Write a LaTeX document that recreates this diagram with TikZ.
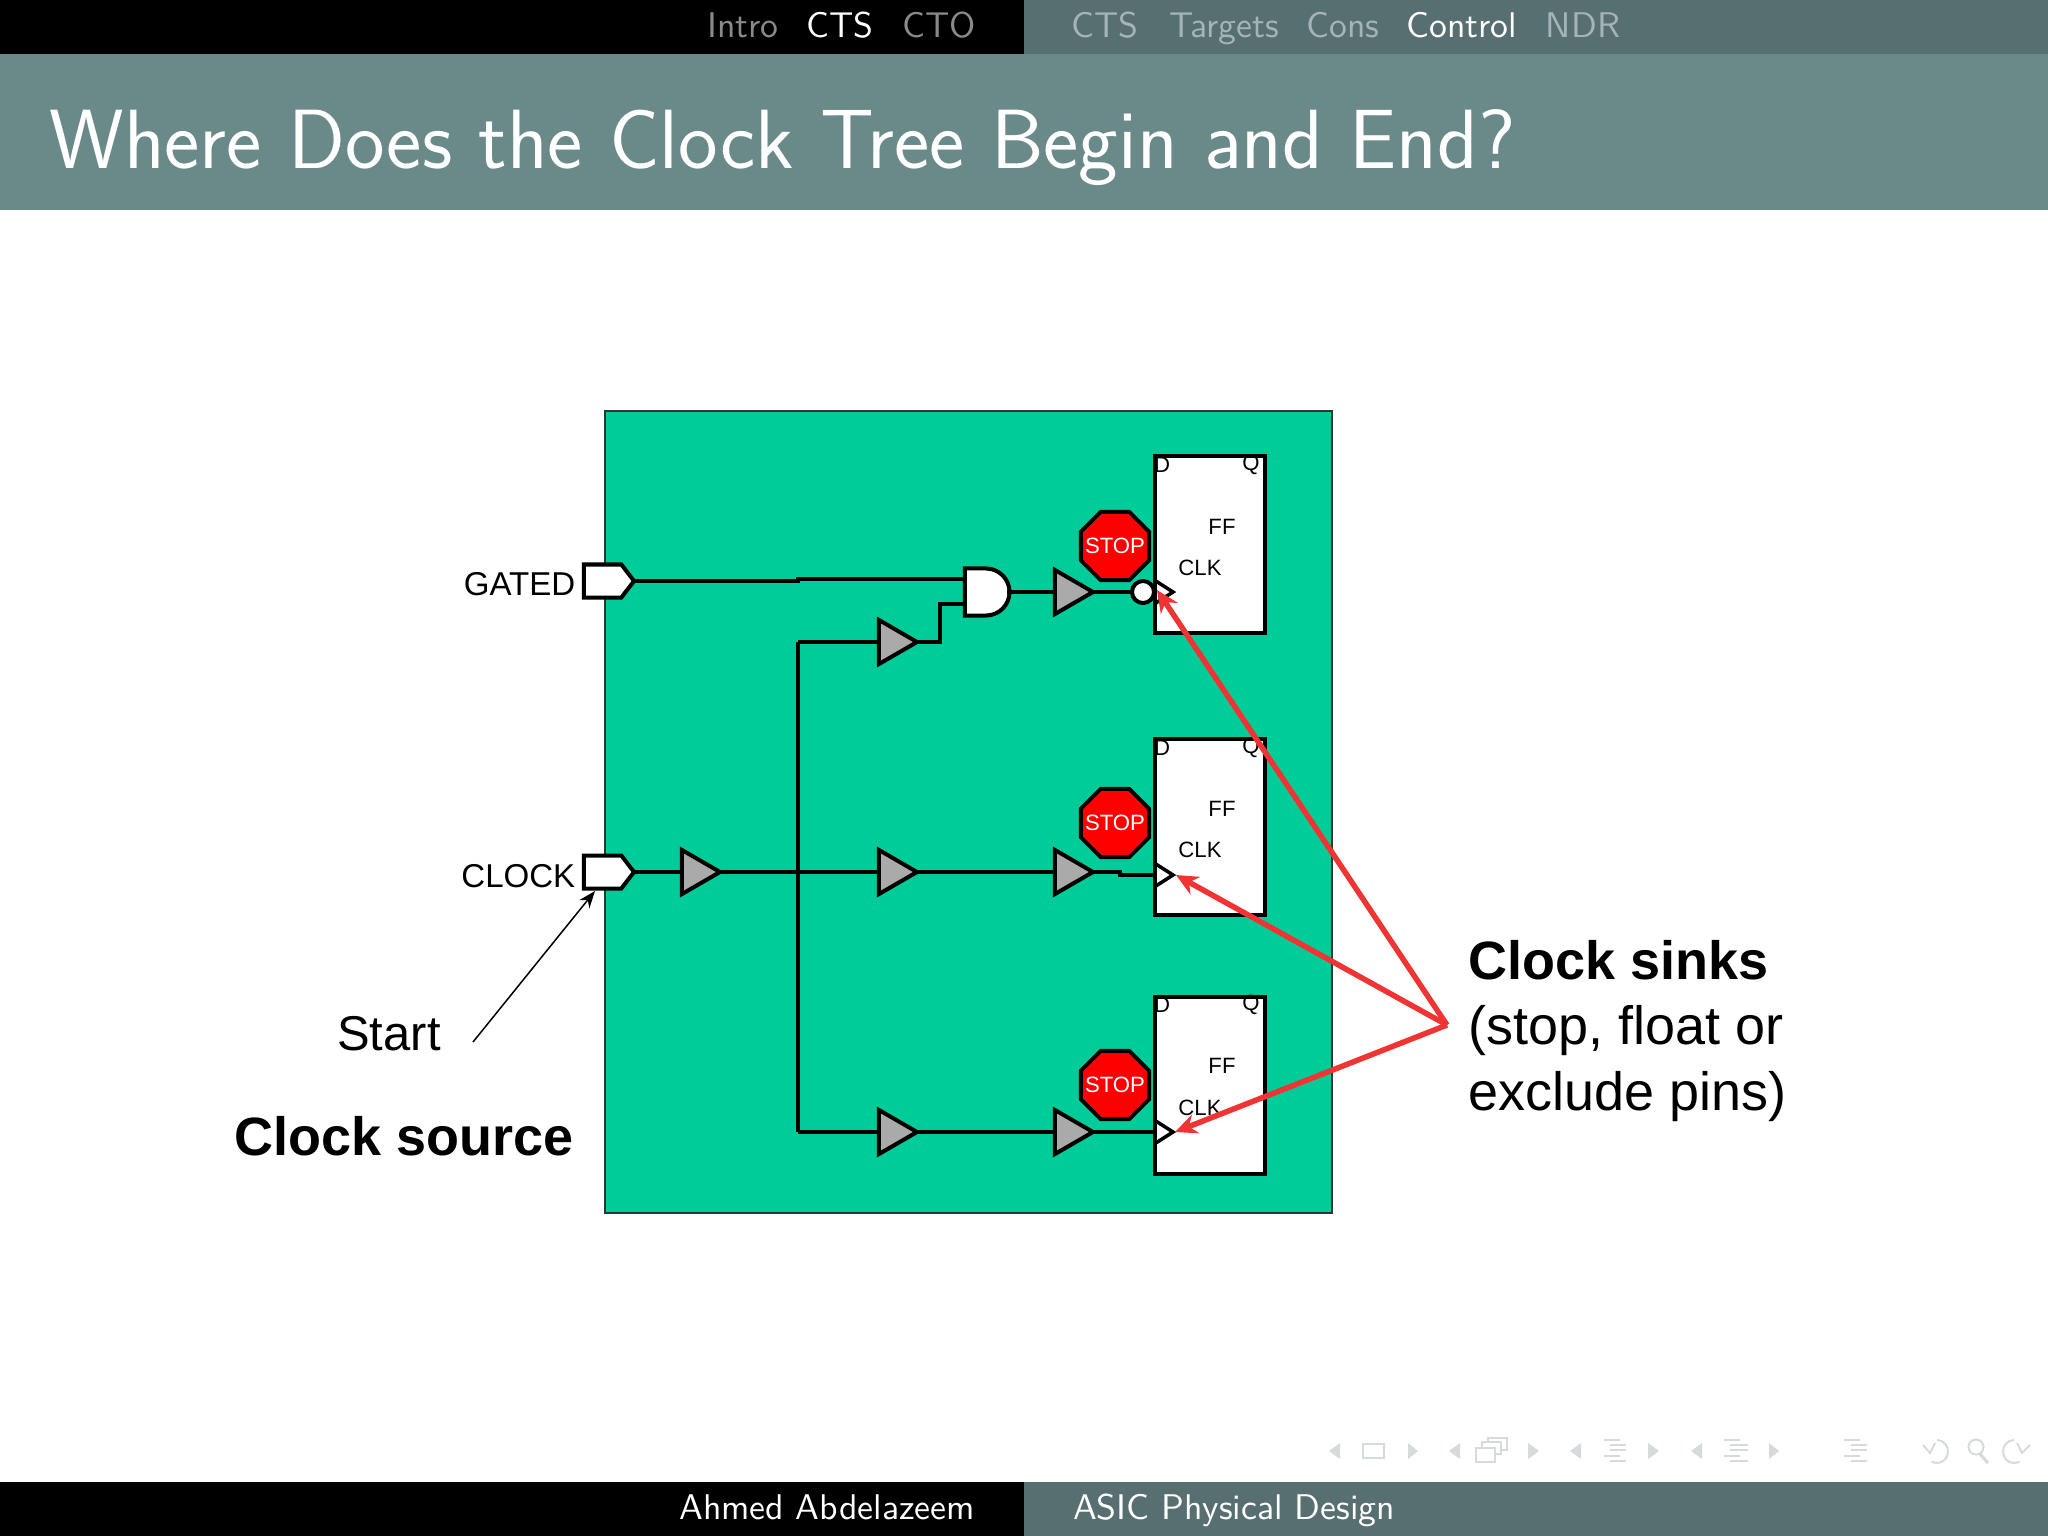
\documentclass[tikz,border=0pt]{standalone}
\usepackage{fontspec}
\setmainfont{Liberation Sans}
\usetikzlibrary{arrows.meta,shapes.geometric,shapes.symbols}
\definecolor{headbar}{HTML}{586F71}
\definecolor{titlebar}{HTML}{6A8A8A}
\definecolor{blockgreen}{HTML}{00CC99}
\definecolor{bufgray}{HTML}{AAAAAA}
\definecolor{navdim}{HTML}{8A8A8A}
\definecolor{navfade}{HTML}{A3B5B5}
\definecolor{iconfade}{HTML}{D5DADA}
\definecolor{sinkred}{HTML}{F03333}
\begin{document}
\begin{tikzpicture}[x=.01cm,y=-.01cm,
wire/.style={line width=.035cm},
buf node/.style={isosceles triangle,isosceles triangle stretches,draw,line width=.04cm,fill=bufgray,minimum width=.44cm,minimum height=.38cm,inner sep=0pt,outer sep=0pt,anchor=apex},
port node/.style={signal,signal to=east,signal from=nowhere,signal pointer angle=105,draw,line width=.04cm,fill=white,minimum width=.5cm,minimum height=.33cm,inner sep=0pt,outer sep=0pt,anchor=east},
ff node/.style={rectangle,draw,line width=.04cm,fill=white,minimum width=1.1cm,minimum height=1.76cm,inner sep=0pt,outer sep=0pt},
stop node/.style={regular polygon,regular polygon sides=8,draw,line width=.04cm,fill=red,text=white,minimum size=.74cm,inner sep=0pt,outer sep=0pt,font=\fontsize{6.3}{7}\selectfont},
clk node/.style={isosceles triangle,isosceles triangle stretches,draw,line width=.035cm,fill=white,minimum width=.23cm,minimum height=.18cm,inner sep=0pt,outer sep=0pt,anchor=lower side},
pin node/.style={inner sep=0pt,font=\fontsize{6.3}{7}\selectfont},
nav node/.style={inner sep=0pt,anchor=base,font=\sffamily\fontsize{10.15}{12}\selectfont},
red arrow/.style={draw=sinkred,line width=.055cm,-{Stealth[length=.22cm,width=.2cm]}}]
\useasboundingbox (0,0) rectangle (2048,1536);
% slide frame
\fill[black] (0,0) rectangle (1024,54);
\fill[headbar] (1024,0) rectangle (2048,54);
\fill[titlebar] (0,54) rectangle (2048,210);
\fill[black] (0,1482) rectangle (1024,1536);
\fill[headbar] (1024,1482) rectangle (2048,1536);
\begin{scope}[every node/.style={nav node}]
\node[text=navdim] (intro) at (743,37) {Intro};
\node[text=white] (cts) at (840,37) {CTS};
\node[text=navdim] (cto) at (939,37) {CTO};
\node[text=navfade] (cts2) at (1105,37) {CTS};
\node[text=navfade] (targets) at (1224,37) {Targets};
\node[text=navfade] (cons) at (1343,37) {Cons};
\node[text=white] (control) at (1462,37) {Control};
\node[text=navfade] (ndr) at (1583,37) {NDR};
\node[text=white] (author) at (827,1519) {Ahmed Abdelazeem};
\node[text=white] (course) at (1234,1519) {ASIC Physical Design};
\end{scope}
\node[anchor=base west,inner sep=0pt,text=white,font=\sffamily\fontsize{23.9}{27}\selectfont] (title) at (49,168) {Where Does the Clock Tree Begin and End?};
% block
\draw[fill=blockgreen,line width=.015cm,draw=black!80] (605,411) rectangle (1332,1213);
\begin{scope}
\node[ff node] (ff1) at (1210,544.5) {};
\node[ff node] (ff2) at (1210,827) {};
\node[ff node] (ff3) at (1210,1085.5) {};
\node[pin node] (d1) at (1162,465) {D};
\node[pin node] (q1) at (1251,465) {Q};
\node[pin node] (name1) at (1222,527) {FF};
\node[pin node] (clk1) at (1200,568) {CLK};
\node[pin node] (d2) at (1162,748) {D};
\node[pin node] (q2) at (1251,748) {Q};
\node[pin node] (name2) at (1222,809) {FF};
\node[pin node] (clk2) at (1200,850) {CLK};
\node[pin node] (d3) at (1162,1005) {D};
\node[pin node] (q3) at (1251,1005) {Q};
\node[pin node] (name3) at (1222,1066) {FF};
\node[pin node] (clk3) at (1200,1108) {CLK};
\node[clk node] (tri1) at (1155,592) {};
\node[clk node] (tri2) at (1155,875) {};
\node[clk node] (tri3) at (1155,1132) {};
\node[circle,draw,line width=.04cm,fill=white,minimum size=.22cm,inner sep=0pt,outer sep=0pt] (bubble) at (1143,592) {};
\node[stop node] (stop1) at (1115,546) {\makebox[0pt]{STOP}};
\node[stop node] (stop2) at (1115,823) {\makebox[0pt]{STOP}};
\node[stop node] (stop3) at (1115,1085) {\makebox[0pt]{STOP}};
\end{scope}
\begin{scope}
\node[port node] (gated) at (634,581) {};
\node[port node] (clock) at (634,872) {};
\node[buf node] (b1) at (720,872) {};
\node[buf node] (b2) at (917,642) {};
\node[buf node] (b3) at (917,872) {};
\node[buf node] (b4) at (917,1132) {};
\node[buf node] (b5) at (1093,592) {};
\node[buf node] (b6) at (1093,872) {};
\node[buf node] (b7) at (1093,1132) {};
\node[minimum width=.42cm,minimum height=.47cm,inner sep=0pt,outer sep=0pt] (andg) at (986,592) {};
\draw[line width=.04cm,fill=white] (andg.south west) -- (andg.north west) -- (andg.north) arc (90:-90:.235cm) -- cycle;
\coordinate (in1) at (965,579);
\coordinate (in2) at (965,604);
\coordinate (trunk) at (798,872);
\coordinate (jog) at (940,642);
\coordinate (kink) at (1120,875);
\end{scope}
\begin{scope}[wire]
\draw (gated.east) -- (798,581) -- (798,579) -- (in1);
\draw (clock.east) -- (b1.lower side);
\draw (b1.apex) -- (b3.lower side);
\draw (trunk |- b2.lower side) -- (trunk |- b4.lower side);
\draw (trunk |- b2.lower side) -- (b2.lower side);
\draw (trunk |- b4.lower side) -- (b4.lower side);
\draw (b2.apex) -- (jog) |- (in2);
\draw (andg.east) -- (b5.lower side);
\draw (b5.apex) -- (bubble.west);
\draw (b3.apex) -- (b6.lower side);
\draw (b6.apex) -| (kink) -- (tri2.lower side);
\draw (b4.apex) -- (b7.lower side);
\draw (b7.apex) -- (tri3.lower side);
\end{scope}
% labels
\node[anchor=east,inner sep=0pt,font=\fontsize{9.4}{11}\selectfont] (gatedtxt) at (576,584) {GATED};
\node[anchor=east,inner sep=0pt,font=\fontsize{9.4}{11}\selectfont] (clocktxt) at (576,876) {CLOCK};
\node[inner sep=0pt,font=\fontsize{13.9}{16}\selectfont] (start) at (389,1034) {Start};
\node[inner sep=0pt,font=\bfseries\fontsize{15.35}{18}\selectfont] (source) at (404,1136) {Clock source};
\node[anchor=west,align=left,inner sep=0pt,font=\fontsize{15.35}{18.5}\selectfont] (sinks) at (1468,1031) {\textbf{Clock sinks}\\(stop, float or\\exclude pins)};
\coordinate (startend) at (473,1042);
\coordinate (pinclock) at (595,891);
\draw[line width=.015cm,-{Stealth[length=.17cm,width=.13cm]}] (startend) -- (pinclock);
\coordinate (sinkpt) at (1447,1025);
\coordinate (tip1) at (1157,590);
\coordinate (tip2) at (1176,875);
\coordinate (tip3) at (1175,1132);
\draw[red arrow] (sinkpt) -- (tip1);
\draw[red arrow] (sinkpt) -- (tip2);
\draw[red arrow] (sinkpt) -- (tip3);
% nav symbols
\begin{scope}[iconfade]
\fill (1340,1443) -- (1329,1451) -- (1340,1459) -- cycle;
\draw[line width=.02cm] (1363,1444) rectangle (1384,1458);
\fill (1408,1443) -- (1418,1451) -- (1408,1459) -- cycle;
\fill (1460,1443) -- (1449,1451) -- (1460,1459) -- cycle;
\draw[line width=.02cm] (1488,1438) rectangle (1507,1450);
\draw[line width=.02cm,fill=white] (1482,1442) rectangle (1501,1454);
\draw[line width=.02cm,fill=white] (1476,1448) rectangle (1495,1462);
\fill (1528,1443) -- (1539,1451) -- (1528,1459) -- cycle;
\fill (1581,1443) -- (1570,1451) -- (1581,1459) -- cycle;
\draw[line width=.02cm] (1604,1440) -- (1620,1440) (1610,1445) -- (1626,1445) (1610,1450) -- (1626,1450) (1604,1456) -- (1620,1456) (1610,1461) -- (1626,1461);
\fill (1648,1443) -- (1659,1451) -- (1648,1459) -- cycle;
\fill (1702,1443) -- (1691,1451) -- (1702,1459) -- cycle;
\draw[line width=.02cm] (1724,1440) -- (1740,1440) (1730,1445) -- (1748,1445) (1730,1450) -- (1748,1450) (1724,1456) -- (1740,1456) (1730,1461) -- (1748,1461);
\fill (1769,1443) -- (1779,1451) -- (1769,1459) -- cycle;
\draw[line width=.025cm] (1844,1440) -- (1860,1440) (1851,1445) -- (1867,1445) (1851,1450) -- (1867,1450) (1844,1456) -- (1860,1456) (1851,1461) -- (1867,1461);
\draw[line width=.02cm] (1937,1440) arc (90:-120:.11cm and .115cm);
\draw[line width=.02cm] (1923,1445) -- (1930,1453) -- (1935,1443);
\draw[line width=.02cm] (1976,1447) circle (.075cm);
\draw[line width=.03cm] (1980,1454) -- (1988,1463);
\draw[line width=.02cm] (2014,1440) arc (90:300:.11cm and .115cm);
\draw[line width=.02cm] (2030,1445) -- (2022,1453) -- (2017,1443);
\end{scope}
\end{tikzpicture}
\end{document}
